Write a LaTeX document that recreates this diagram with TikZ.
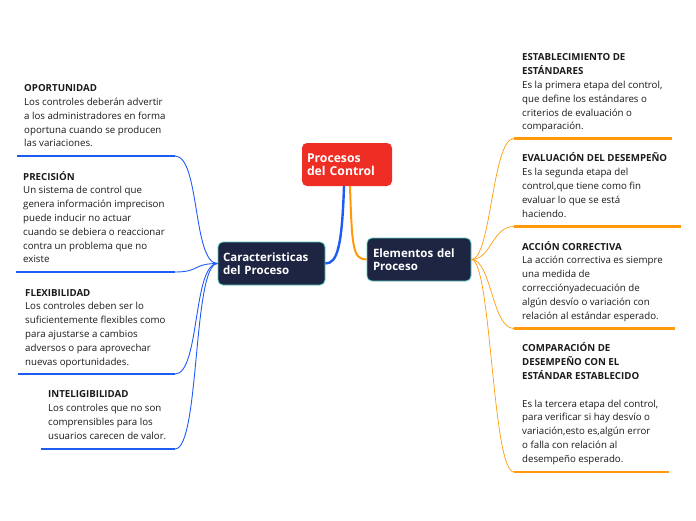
\documentclass[tikz,border=0pt]{standalone}
\usepackage{fontspec}
\setmainfont{Open Sans}
\definecolor{cblue}{HTML}{1F5BF5}
\definecolor{corange}{HTML}{FF9B0A}
\definecolor{cred}{HTML}{EE2E24}
\definecolor{cnavy}{HTML}{1E2542}
\definecolor{cteal}{HTML}{5CC9BC}
\definecolor{ctext}{HTML}{1A1A1A}
\begin{document}
\begin{tikzpicture}[x=1pt,y=-1pt,
  desc/.style={anchor=north west, inner sep=0pt, align=left, text=ctext,
    font=\fontsize{9.7}{13.8}\selectfont},
  rootbox/.style={fill=cred, rounded corners=5pt, text=white, align=left,
    font=\fontsize{12.2}{13.3}\selectfont\bfseries, minimum height=43pt,
    inner ysep=0pt},
  topicbox/.style={fill=cnavy, draw=cteal, line width=0.8pt, rounded corners=5pt,
    text=white, align=left, font=\fontsize{11.5}{12.7}\selectfont\bfseries,
    minimum height=43pt, inner ysep=0pt},
  bline/.style={draw=cblue, line width=0.9pt},
  oline/.style={draw=corange, line width=0.7pt},
  bunder/.style={draw=cblue, line width=2.4pt},
  ounder/.style={draw=corange, line width=2.4pt}]
\useasboundingbox (0,0) rectangle (696,520);

% central and main topics
\node[rootbox, minimum width=90pt, text width=80pt, inner xsep=5pt] (cen) at (347,164.5)
  {Procesos\\del Control};
\node[topicbox, minimum width=107pt, text width=97pt, inner xsep=5pt] (car) at (271.5,263.5)
  {Caracteristicas\\del Proceso};
\node[topicbox, minimum width=104pt, text width=92pt, inner xsep=6pt] (ele) at (419,259.5)
  {Elementos del\\Proceso};

\draw[draw=cblue, line width=2.4pt] ([xshift=-3pt]cen.south) .. controls +(-2,60) and +(12,0) .. (car.east);
\draw[draw=corange, line width=2pt] ([xshift=3pt]cen.south) .. controls +(2,60) and +(-14,0) .. (ele.west);

% left descriptions
\node[desc] (op) at (24,81.8) {\strut\textbf{OPORTUNIDAD}\\Los controles deberán advertir\\a los administradores en forma\\oportuna cuando se producen\\las variaciones.};
\node[desc] (pr) at (23,170.3) {\strut\textbf{PRECISIÓN}\\Un sistema de control que\\genera información imprecison\\puede inducir no actuar\\cuando se debiera o reaccionar\\contra un problema que no\\existe};
\node[desc] (fl) at (25,286.3) {\strut\textbf{FLEXIBILIDAD}\\Los controles deben ser lo\\suficientemente flexibles como\\para ajustarse a cambios\\adversos o para aprovechar\\nuevas oportunidades.};
\node[desc] (in) at (48,388) {\strut\textbf{INTELIGIBILIDAD}\\Los controles que no son\\comprensibles para los\\usuarios carecen de valor.};

\coordinate (u1a) at (17,156);  \coordinate (u1) at (175,156);
\coordinate (u2a) at (16,272);  \coordinate (u2) at (175,272);
\coordinate (u3a) at (18,374);  \coordinate (u3) at (175,374);
\coordinate (u4a) at (41,449);  \coordinate (u4) at (175,449);

\foreach \u in {u1,u2,u3,u4} {
  \draw[bunder] (\u a) -- (\u);
  \draw[bline] (car.west) .. controls +(-25,0) and +(25,0) .. (\u);
}

% right descriptions
\node[desc] (es) at (522,51) {\strut\textbf{ESTABLECIMIENTO DE}\\\textbf{ESTÁNDARES}\\Es la primera etapa del control,\\que define los estándares o\\criterios de evaluación o\\comparación.};
\node[desc] (ev) at (522,152) {\strut\textbf{EVALUACIÓN DEL DESEMPEÑO}\\Es la segunda etapa del\\control,que tiene como fin\\evaluar lo que se está\\haciendo.};
\node[desc] (ac) at (522,240.3) {\strut\textbf{ACCIÓN CORRECTIVA}\\La acción correctiva es siempre\\una medida de\\correcciónyadecuación de\\algún desvío o variación con\\relación al estándar esperado.};
\node[desc] (co) at (522,342) {\strut\textbf{COMPARACIÓN DE}\\\textbf{DESEMPEÑO CON EL}\\\textbf{ESTÁNDAR ESTABLECIDO}\\[13.8pt]Es la tercera etapa del control,\\para verificar si hay desvío o\\variación,esto es,algún error\\o falla con relación al\\desempeño esperado.};

\coordinate (r1) at (514,138.5); \coordinate (r1b) at (672,138.5);
\coordinate (r2) at (514,226.5); \coordinate (r2b) at (681,226.5);
\coordinate (r3) at (514,328.5); \coordinate (r3b) at (675,328.5);
\coordinate (r4) at (514,472);   \coordinate (r4b) at (669,472);

\foreach \r in {r1,r2,r3,r4} {
  \draw[ounder] (\r) -- (\r b);
  \draw[oline] (ele.east) .. controls +(20,0) and +(-22,0) .. (\r);
}
\end{tikzpicture}
\end{document}
